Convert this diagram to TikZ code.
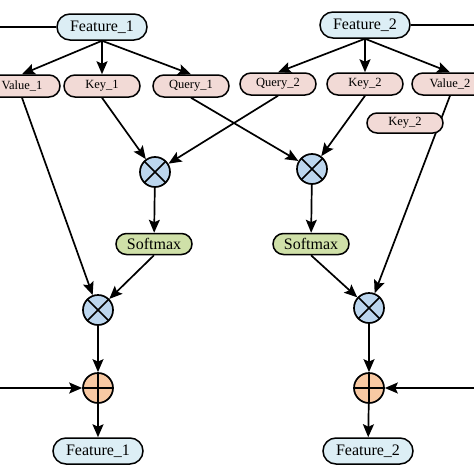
\documentclass[tikz,border=0pt]{standalone}
\usepackage{fontspec}
\setmainfont{Liberation Serif}
\usetikzlibrary{shapes.misc, arrows.meta}

\definecolor{featblue}{HTML}{DCEEF5}
\definecolor{kqvpink}{HTML}{F2DAD6}
\definecolor{softgreen}{HTML}{CFE0A8}
\definecolor{multblue}{HTML}{BCD6EE}
\definecolor{addorange}{HTML}{F8C9A3}

\tikzset{
  feat/.style={rounded rectangle, draw, line width=1.5pt, fill=featblue,
    minimum width=90pt, minimum height=26pt, inner sep=0pt,
    font=\fontsize{16}{16}\selectfont},
  kqv/.style={rounded rectangle, draw, line width=1.5pt, fill=kqvpink,
    minimum width=76pt, minimum height=22pt, inner sep=0pt,
    font=\fontsize{12.5}{12.5}\selectfont},
  soft/.style={rounded rectangle, draw, line width=1.5pt, fill=softgreen,
    minimum width=76pt, minimum height=21pt, inner sep=0pt,
    font=\fontsize{16}{16}\selectfont},
  mult/.style={circle, draw, line width=1.7pt, fill=multblue, minimum size=30pt,
    inner sep=0pt, path picture={
      \draw[line width=1.7pt] (path picture bounding box.north west) -- (path picture bounding box.south east)
        (path picture bounding box.north east) -- (path picture bounding box.south west);}},
  add/.style={circle, draw, line width=1.7pt, fill=addorange, minimum size=30pt,
    inner sep=0pt, path picture={
      \draw[line width=1.7pt] (path picture bounding box.north) -- (path picture bounding box.south)
        (path picture bounding box.west) -- (path picture bounding box.east);}},
  arr/.style={-{Stealth[length=13pt,width=11pt,inset=2.5pt]}, line width=1.7pt},
  plain/.style={line width=1.7pt},
}

\begin{document}
\begin{tikzpicture}[x=1pt, y=-1pt]
    \clip (0, 0) rectangle (474, 474);

    % Inputs
    \node[feat] (feat1) at (102, 27) {Feature\_1};
    \node[feat] (feat2) at (365, 25) {Feature\_2};
    \coordinate (in1) at (0, 27);
    \coordinate (in2) at (474, 25);

    % Value, key and query
    \node[kqv] (value1) at (22, 86) {Value\_1};
    \node[kqv] (key1) at (102, 86) {Key\_1};
    \node[kqv] (query1) at (191, 86) {Query\_1};
    \node[kqv] (query2) at (278, 84) {Query\_2};
    \node[kqv] (key2) at (365, 84) {Key\_2};
    \node[kqv] (value2) at (450, 84) {Value\_2};

    % Attention
    \node[mult] (multL) at (155, 172) {};
    \node[mult] (multR) at (312, 169) {};
    \node[soft] (softL) at (154, 244) {Softmax};
    \node[soft] (softR) at (311, 244) {Softmax};
    \node[mult] (outL) at (98, 310) {};
    \node[mult] (outR) at (369, 308) {};
    \node[add] (addL) at (98, 388) {};
    \node[add] (addR) at (369, 388) {};
    \coordinate (resL) at (0, 388);
    \coordinate (resR) at (474, 388);

    % Outputs
    \node[feat] (res1) at (98, 451) {Feature\_1};
    \node[feat] (res2) at (368, 451) {Feature\_2};

    % Connectors
    \draw[plain] (in1) -- (feat1);
    \draw[plain] (feat2) -- (in2);
    \draw[arr] (feat1.south) -- (value1.north);
    \draw[arr] (feat1.south) -- (key1.north);
    \draw[arr] (feat1.south) -- (query1.north);
    \draw[arr] (feat2.south) -- (query2.north);
    \draw[arr] (feat2.south) -- (key2.north);
    \draw[arr] (feat2.south) -- (value2.north);
    \draw[arr] (key1.south) -- (multL);
    \draw[arr] (query2.south) -- (multL);
    \draw[arr] (query1.south) -- (multR);
    \draw[arr] (key2.south) -- (multR);
    \draw[arr] (multL) -- (softL);
    \draw[arr] (multR) -- (softR);
    \draw[arr] (softL.south) -- (outL);
    \draw[arr] (softR.south) -- (outR);
    \draw[arr] (value1.south) -- (outL);
    \draw[arr] (value2.south) -- (outR);
    \draw[arr] (outL) -- (addL);
    \draw[arr] (outR) -- (addR);
    \draw[arr] (resL) -- (addL);
    \draw[arr] (resR) -- (addR);
    \draw[arr] (addL) -- (res1);
    \draw[arr] (addR) -- (res2);

    % Extra key
    \node[kqv, minimum height=20pt] (key2b) at (405, 123) {Key\_2};
\end{tikzpicture}
\end{document}
